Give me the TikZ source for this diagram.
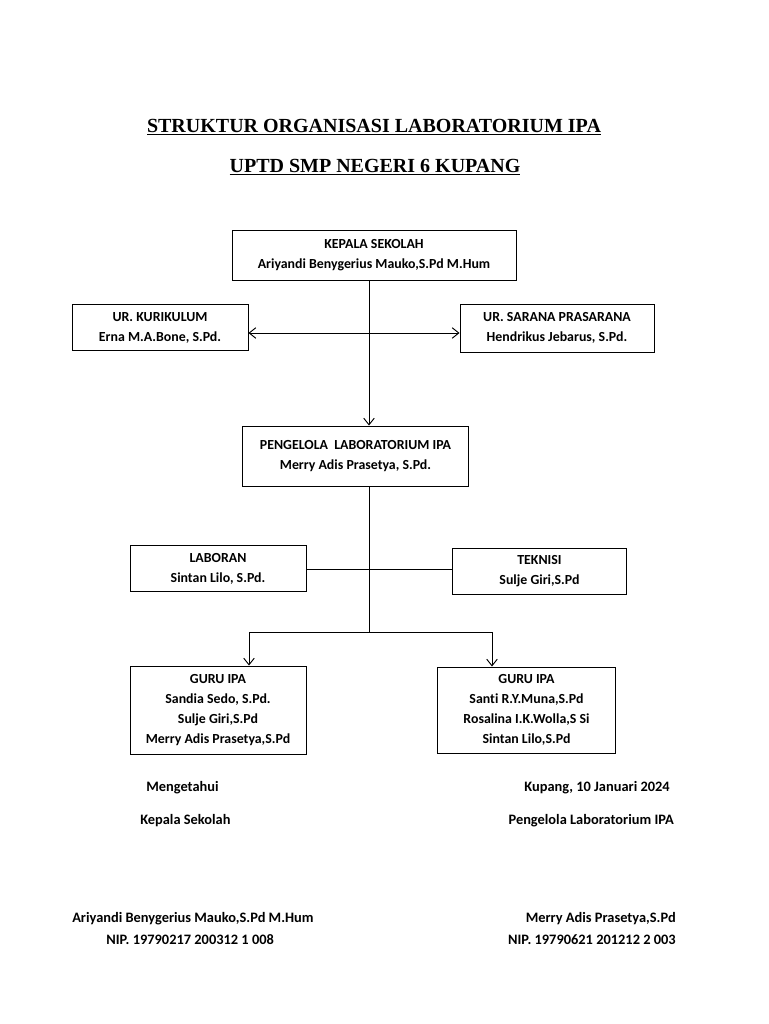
\documentclass[tikz,border=0pt]{standalone}
\usepackage{fontspec}
\setmainfont{Carlito}[Ligatures=NoCommon]
\newfontfamily\titlefont{Liberation Serif}
\usetikzlibrary{arrows.meta}
\begin{document}
\begin{tikzpicture}[x=0.75pt,y=-0.75pt,
  box/.style={draw,line width=0.7pt,minimum width=#1,align=center,font=\fontsize{10.4}{15}\selectfont\bfseries,inner sep=2pt},
  txt/.style={font=\fontsize{10.8}{12}\selectfont\bfseries,inner sep=0pt},
  ln/.style={line width=0.7pt},
  arr/.style={ln,-{Straight Barb[length=5pt,width=8pt]}}]
\useasboundingbox (0,0) rectangle (768,1024);
\node[font=\titlefont\fontsize{15}{18}\selectfont\bfseries] (t1) at (374,127) {\underline{STRUKTUR ORGANISASI LABORATORIUM IPA}};
\node[font=\titlefont\fontsize{15}{18}\selectfont\bfseries] (t2) at (375,167) {\underline{UPTD SMP NEGERI 6 KUPANG}};
\node[box=213pt,minimum height=37.5pt] (ks) at (374,255) {KEPALA SEKOLAH\\Ariyandi Benygerius Mauko,S.Pd M.Hum};
\node[box=132pt,minimum height=35pt] (kur) at (160,327.5) {UR. KURIKULUM\\Erna M.A.Bone, S.Pd.};
\node[box=145.5pt,minimum height=36pt] (sar) at (557,328) {UR. SARANA PRASARANA\\Hendrikus Jebarus, S.Pd.};
\node[box=170pt,minimum height=45pt] (pl) at (355.5,456) {PENGELOLA\ \ LABORATORIUM IPA\\Merry Adis Prasetya, S.Pd.};
\node[box=132pt,minimum height=35pt] (lab) at (218,568.5) {LABORAN\\Sintan Lilo, S.Pd.};
\node[box=130pt,minimum height=34pt] (tek) at (539.5,571.5) {TEKNISI\\Sulje Giri,S.Pd};
\node[box=132pt,minimum height=66pt] (g1) at (218,710) {GURU IPA\\Sandia Sedo, S.Pd.\\Sulje Giri,S.Pd\\Merry Adis Prasetya,S.Pd};
\node[box=133pt,minimum height=64.5pt] (g2) at (526.5,710) {GURU IPA\\Santi R.Y.Muna,S.Pd\\Rosalina I.K.Wolla,S Si\\Sintan Lilo,S.Pd};
\coordinate (jt) at (369,632);
\draw[arr] (ks.south -| jt) -- (pl.north -| jt);
\draw[ln,{Straight Barb[length=5pt,width=8pt]}-{Straight Barb[length=5pt,width=8pt]}] (kur.east |- 0,333) -- (sar.west |- 0,333);
\draw[ln] (pl.south -| jt) -- (jt);
\draw[ln] (lab.east |- 0,569) -- (tek.west |- 0,569);
\coordinate (jl) at (249,632);
\coordinate (jr) at (492,632);
\draw[ln] (jl) -- (jr);
\draw[arr] (jl) -- (g1.north -| jl);
\draw[arr] (jr) -- (g2.north -| jr);
\node[txt,anchor=west] (m1) at (146,788) {Mengetahui};
\node[txt,anchor=west] (m2) at (140,821) {Kepala Sekolah};
\node[txt,anchor=east] (k1) at (670,788) {Kupang, 10 Januari 2024};
\node[txt,anchor=east] (k2) at (674,821) {Pengelola Laboratorium IPA};
\node[txt,anchor=west] (s1) at (72,919) {Ariyandi Benygerius Mauko,S.Pd M.Hum};
\node[txt,anchor=west] (s2) at (106,940) {NIP. 19790217 200312 1 008};
\node[txt,anchor=east] (s3) at (676,919) {Merry Adis Prasetya,S.Pd};
\node[txt,anchor=east] (s4) at (676,940) {NIP. 19790621 201212 2 003};
\end{tikzpicture}
\end{document}
